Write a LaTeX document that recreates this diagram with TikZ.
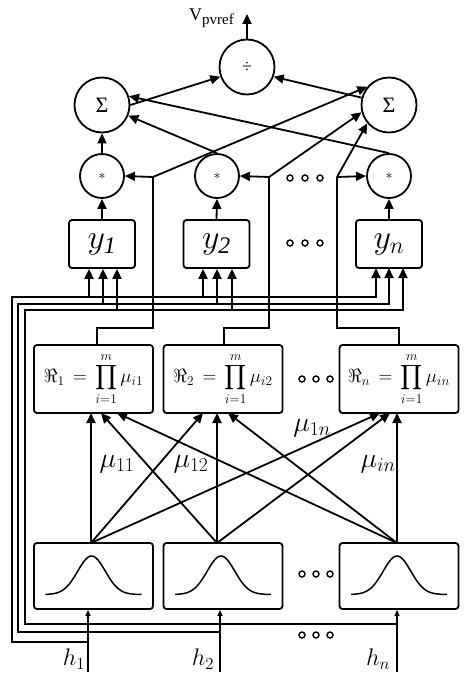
\RequirePackage{fix-cm}
\documentclass[tikz,border=0pt]{standalone}
\usepackage{amsmath}
\usepackage{exscale}
\usepackage{fontspec}
\setmainfont{Liberation Serif}
\usetikzlibrary{arrows.meta,calc}
\begin{document}
\begin{tikzpicture}[x=1pt,y=-1pt,
  ln/.style={line width=1.8pt},
  arr/.style={ln,-{Triangle[length=10pt,width=9pt]}},
  sarr/.style={ln,-{Triangle[length=6pt,width=5pt]}},
  bigc/.style={circle,draw,ln,minimum size=55pt,inner sep=0pt},
  smc/.style={circle,draw,ln,minimum size=44pt,inner sep=0pt},
  bx/.style={draw,ln,rounded corners=3pt,inner sep=0pt},
  ybox/.style={bx,minimum width=66pt,minimum height=48pt,font=\fontsize{34}{34}\selectfont},
  rbox/.style={bx,minimum width=119pt,minimum height=68pt,font=\fontsize{19}{19}\selectfont},
  gbox/.style={bx,minimum width=119pt,minimum height=66pt},
  dotc/.style={circle,draw,line width=1.4pt,minimum size=6pt,inner sep=0pt},
  mulab/.style={font=\fontsize{28}{28}\selectfont},
  hlab/.style={font=\fontsize{24}{24}\selectfont},
]
\useasboundingbox (0,0) rectangle (474,685);

% circles
\node[bigc] (div) at (247,67) {\fontsize{18}{18}\selectfont ÷};
\node[bigc] (sumL) at (102,105) {\fontsize{22}{22}\selectfont Σ};
\node[bigc] (sumR) at (389,105) {\fontsize{22}{22}\selectfont Σ};
\node[smc] (m1) at (102,176) {\fontsize{14}{14}\selectfont $*$};
\node[smc] (m2) at (217,176) {\fontsize{14}{14}\selectfont $*$};
\node[smc] (mn) at (389,176) {\fontsize{14}{14}\selectfont $*$};

% y boxes
\node[ybox] (y1) at (102,244) {$y_{\mathit{1}}$};
\node[ybox] (y2) at (216.5,244) {$y_{\mathit{2}}$};
\node[ybox] (yn) at (389,244) {$y_{n}$};

% rule boxes
\node[rbox] (R1) at (93.5,379) {$\displaystyle \Re_1 \,=\, \prod_{i=1}^{m}\mu_{i1}$};
\node[rbox] (R2) at (223,379) {$\displaystyle \Re_2 \,=\, \prod_{i=1}^{m}\mu_{i2}$};
\node[rbox] (Rn) at (399,379) {$\displaystyle \Re_n \,=\, \prod_{i=1}^{m}\mu_{in}$};

% gaussian boxes
\node[gbox] (G1) at (93.5,576) {};
\node[gbox] (G2) at (223,576) {};
\node[gbox] (Gn) at (399,576) {};
\foreach \g in {G1,G2,Gn}{
  \draw[line width=1.5pt,shift={(\g.center)}] plot[domain=-48:48,samples=80,smooth]
    (\x,{18.5-38.5*exp(-((\x+2)*(\x+2))/380)});
}

% dots
\foreach \px/\py/\nm in {290/178/a,305/178/b,320/178/c,
                        290/243/d,305/243/e,320/243/f,
                        302/379/g,316/379/h,330/379/i,
                        302/574/j,316/574/k,330/574/l,
                        302/635/m,316/635/n,330/635/o}{
  \node[dotc] (dot\nm) at (\px,\py) {};
}

% output
\coordinate (vout) at (247,14);
\draw[arr] (div.north) -- (vout);
\node[anchor=base east,inner sep=0pt] (vlab) at (234,21)
  {{\fontsize{18}{18}\selectfont V}\raisebox{-4pt}{\fontsize{15}{15}\selectfont pvref}};

% sums to divide
\draw[arr] (sumL.0) -- (div.200);
\draw[arr] (sumR.165) -- (div.340);

% products to left sum
\draw[arr] (m1.north) -- (sumL.south);
\draw[arr] (m2.north) -- (sumL.-22);
\draw[arr] (mn.north) -- (sumL.18);

% y to products
\draw[arr] (y1.north) -- (m1.south);
\draw[arr] (y2.north) -- (m2.south);
\draw[arr] (yn.north) -- (mn.south);

% rule outputs
\coordinate (r1o) at (97,345);
\coordinate (r2o) at (224,345);
\coordinate (rno) at (399,345);
\coordinate (j1) at (153,177);
\coordinate (j2) at (269,177);
\coordinate (jn) at (337,177);
\draw[ln] (r1o) -- ++(0,-17) -| (j1);
\draw[ln] (r2o) -- ++(0,-17) -| (j2);
\draw[ln] (rno) -- ++(0,-17) -| (jn);
\draw[arr] (j1) -- (m1.east);
\draw[arr] (j2) -- (m2.east);
\draw[arr] (jn) -- (mn.west);
\draw[arr] (j1) -- (sumR.140);
\draw[arr] (j2) -- (sumR.195);
\draw[arr] (jn) -- (sumR.220);

% inputs h
\coordinate (h1b) at (88,672);
\coordinate (h2b) at (220,672);
\coordinate (hnb) at (397,672);
\coordinate (h1k) at (88,642);
\coordinate (h2k) at (220,632);
\coordinate (hnk) at (397,624);
\draw[sarr] (h1b) -- (h1b |- G1.south);
\draw[sarr] (h2b) -- (h2b |- G2.south);
\draw[sarr] (hnb) -- (hnb |- Gn.south);
\node[hlab] (h1l) at (74,659) {$h_1$};
\node[hlab] (h2l) at (203,659) {$h_2$};
\node[hlab] (hnl) at (378,659) {$h_n$};

% feedback buses to y boxes
\coordinate (c1) at (12,297);
\coordinate (c2) at (18,304);
\coordinate (c3) at (25,310);
\draw[arr] (h1k) -| (c1) -| (376,268);
\draw[arr] (h2k) -| (c2) -| (389,268);
\draw[arr] (hnk) -| (c3) -| (403,268);
\coordinate (t11) at (89,297);
\coordinate (t12) at (203,297);
\coordinate (t21) at (103,304);
\coordinate (t22) at (217,304);
\coordinate (t31) at (117,310);
\coordinate (t32) at (232,310);
\draw[arr] (t11) -- (t11 |- y1.south);
\draw[arr] (t21) -- (t21 |- y1.south);
\draw[arr] (t31) -- (t31 |- y1.south);
\draw[arr] (t12) -- (t12 |- y2.south);
\draw[arr] (t22) -- (t22 |- y2.south);
\draw[arr] (t32) -- (t32 |- y2.south);

% membership connections
\coordinate (g1) at (91,543);
\coordinate (g2) at (217,543);
\coordinate (gn) at (397,543);
\coordinate (a11) at (91,413);
\coordinate (a21) at (101,413);
\coordinate (an1) at (117,413);
\coordinate (a12) at (203,413);
\coordinate (a22) at (217,413);
\coordinate (an2) at (228,413);
\coordinate (a1n) at (380,413);
\coordinate (a2n) at (390,413);
\coordinate (ann) at (397,413);
\draw[arr] (g1) -- (a11);
\draw[arr] (g1) -- (a12);
\draw[arr] (g1) -- (a1n);
\draw[arr] (g2) -- (a21);
\draw[arr] (g2) -- (a22);
\draw[arr] (g2) -- (a2n);
\draw[arr] (gn) -- (an1);
\draw[arr] (gn) -- (an2);
\draw[arr] (gn) -- (ann);

\node[mulab] (mu11) at (117,464) {$\mu_{11}$};
\node[mulab] (mu12) at (191,464) {$\mu_{12}$};
\node[mulab] (mu1n) at (312,428) {$\mu_{1n}$};
\node[mulab] (muin) at (378,464) {$\mu_{in}$};
\end{tikzpicture}
\end{document}
